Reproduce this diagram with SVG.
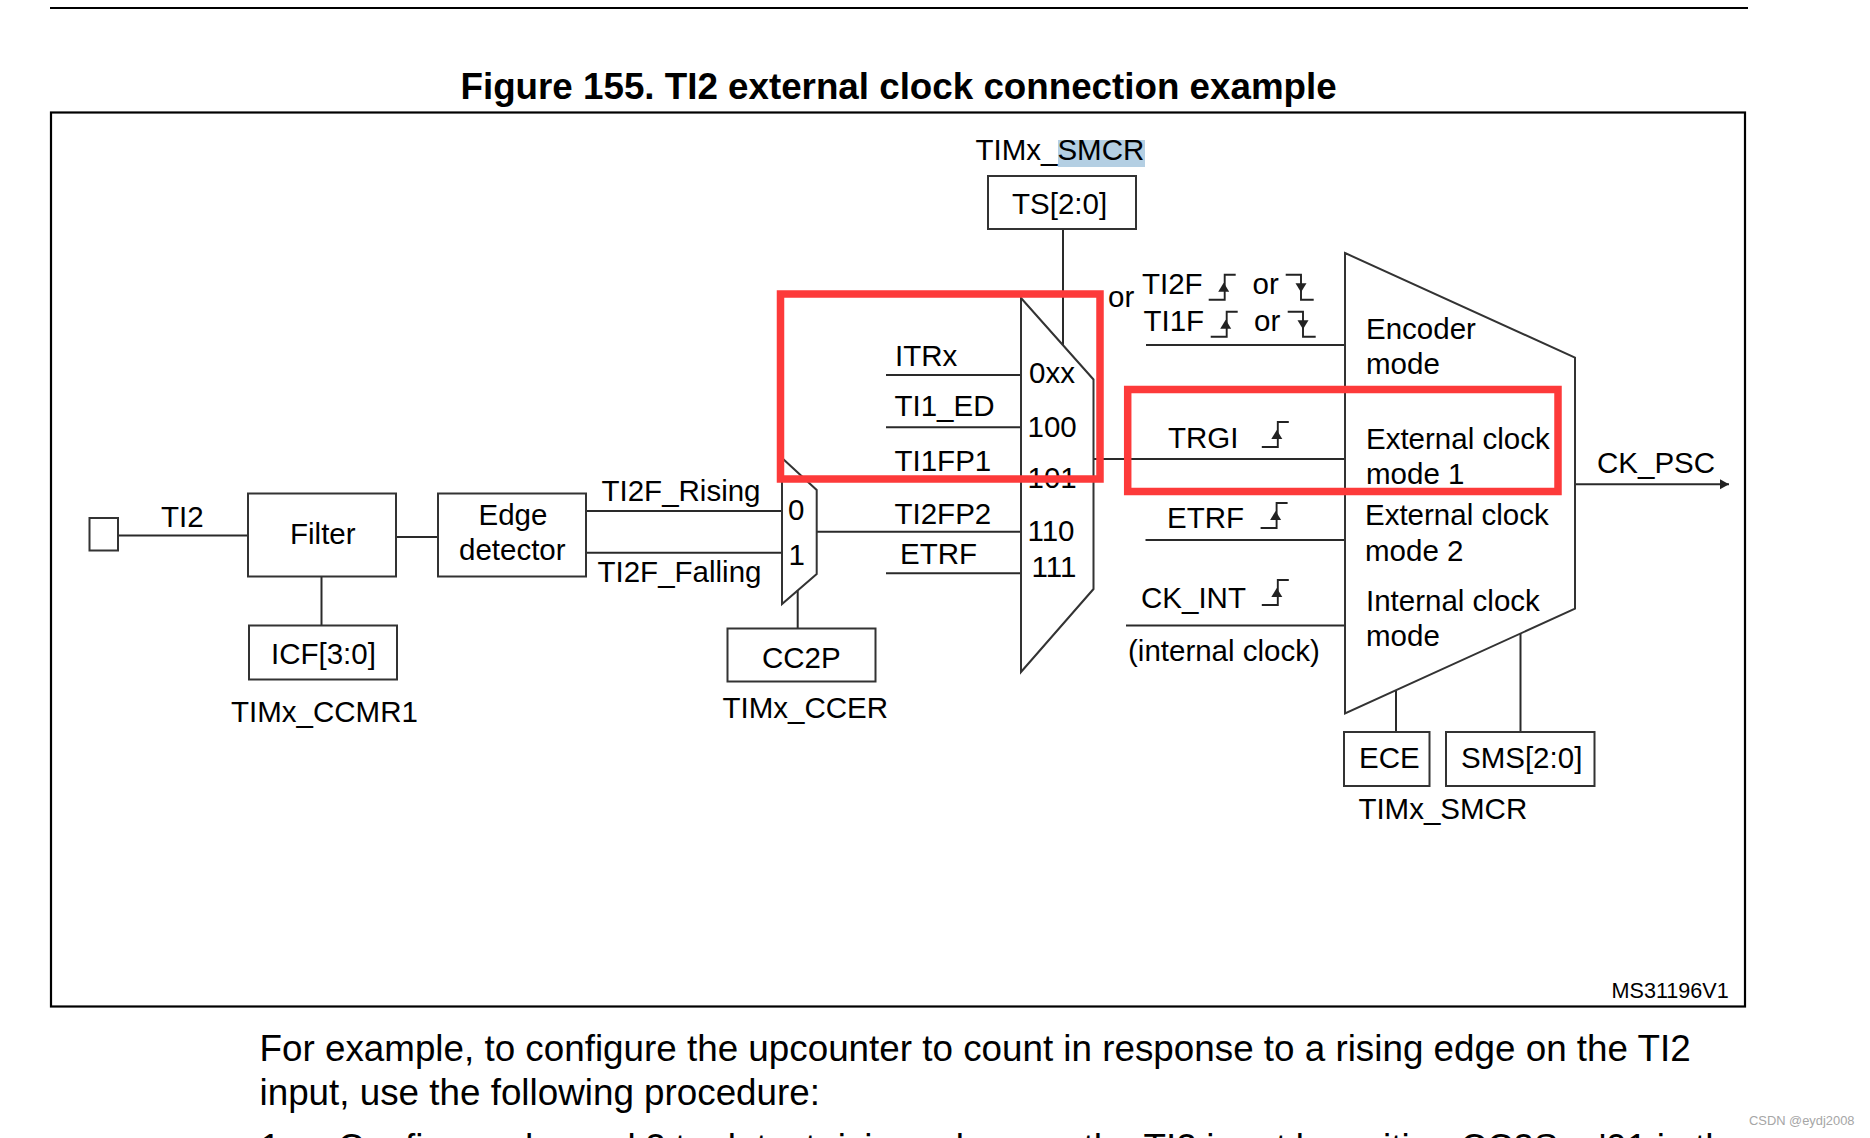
<svg xmlns="http://www.w3.org/2000/svg" width="1870" height="1138" viewBox="0 0 1870 1138">
<style>
text{font-family:"Liberation Sans",Arial,sans-serif;font-size:29.5px;fill:#000}
.title{font-size:36.75px;font-weight:bold}
.body{font-size:36.8px}
.id{font-size:21.6px}
.wm{font-size:12.9px;fill:#a6a6a6}
.frame{fill:none;stroke:#000;stroke-width:2.2}
.box,.shape{fill:#fff;stroke:#333;stroke-width:2}
.shape{fill:none}
#connectors line{stroke:#2a2a2a;stroke-width:2}
.hl{fill:#b4cfe3}
.red{fill:none;stroke:#fd3a3a;stroke-width:7.5}
.e{fill:none;stroke:#222;stroke-width:1.9}
.t{fill:#222}
</style>
<defs>
<g id="rise"><path class="e" d="M0 25H16V0H27"/><polygon class="t" points="15,8 9.5,17 20.5,17"/></g>
<g id="fall"><path class="e" d="M0 0H15.3V25H28"/><polygon class="t" points="15.3,17.5 9.8,8.5 20.8,8.5"/></g>
<marker id="arr" markerUnits="userSpaceOnUse" markerWidth="10" markerHeight="12" refX="9" refY="5" orient="auto"><path d="M0 0L9 5L0 10z" fill="#222"/></marker>
</defs>
<rect width="1870" height="1138" fill="#fff"/>
<line x1="50" y1="8" x2="1748" y2="8" stroke="#000" stroke-width="2"/>
<text class="title" x="460.5" y="98.5">Figure 155. TI2 external clock connection example</text>
<rect class="frame" x="51" y="112.5" width="1694" height="894"/>
<rect class="hl" x="1058" y="140" width="87" height="27"/>

<g id="connectors">
<line x1="118" y1="535.5" x2="248" y2="535.5"/>
<line x1="396" y1="537" x2="438" y2="537"/>
<line x1="321.5" y1="576" x2="321.5" y2="625"/>
<line x1="586" y1="511" x2="782" y2="511"/>
<line x1="586" y1="552.7" x2="782" y2="552.7"/>
<line x1="816.5" y1="531.7" x2="1021" y2="531.7"/>
<line x1="886" y1="573.3" x2="1021" y2="573.3"/>
<line x1="886" y1="375" x2="1021" y2="375"/>
<line x1="886" y1="427.3" x2="1021" y2="427.3"/>
<line x1="797.7" y1="590" x2="797.7" y2="628"/>
<line x1="1063" y1="229" x2="1063" y2="345"/>
<line x1="1146" y1="345" x2="1345" y2="345"/>
<line x1="1094" y1="459" x2="1345" y2="459"/>
<line x1="1145.5" y1="540" x2="1345" y2="540"/>
<line x1="1126" y1="625.5" x2="1345" y2="625.5"/>
<line x1="1396" y1="690.5" x2="1396" y2="732"/>
<line x1="1520.5" y1="633.6" x2="1520.5" y2="732"/>
<line x1="1575" y1="484.3" x2="1729" y2="484.3" marker-end="url(#arr)"/>
</g>

<g id="n-input"><rect class="box" x="89.5" y="518" width="28.5" height="32.5"/><text x="161" y="527">TI2</text></g>
<g id="n-filter"><rect class="box" x="248" y="493.5" width="148" height="83"/><text x="290" y="543.5">Filter</text></g>
<g id="n-edge"><rect class="box" x="438" y="493.5" width="148" height="83"/><text x="478.5" y="525">Edge</text><text x="459" y="560">detector</text></g>
<g id="n-icf"><rect class="box" x="249" y="625.5" width="148" height="54"/><text x="271" y="664">ICF[3:0]</text><text x="231" y="722">TIMx_CCMR1</text></g>
<g id="n-cc2p"><rect class="box" x="727.5" y="628.5" width="148" height="53"/><text x="762" y="668">CC2P</text><text x="722.5" y="717.5">TIMx_CCER</text></g>
<g id="n-ts"><rect class="box" x="988" y="176" width="148" height="53"/><text x="975.5" y="160">TIMx_SMCR</text><text x="1012" y="214">TS[2:0]</text></g>
<g id="n-ece"><rect class="box" x="1344" y="732" width="85.5" height="54"/><text x="1359" y="768">ECE</text></g>
<g id="n-sms"><rect class="box" x="1446" y="732" width="148.5" height="54"/><text x="1461" y="768">SMS[2:0]</text><text x="1358.4" y="819">TIMx_SMCR</text></g>

<g id="n-mux-pol"><polygon class="shape" points="782,458 816.7,490 816.7,574 782,604"/><text x="788" y="520">0</text><text x="788.5" y="565">1</text></g>
<g id="n-mux-ts"><polygon class="shape" points="1021,298 1093.5,379.5 1093.5,589 1021,672"/>
<text x="1029" y="383">0xx</text><text x="1027.5" y="437.4">100</text><text x="1027.5" y="487.7">101</text><text x="1027.5" y="541">110</text><text x="1031.5" y="576.7">111</text></g>
<g id="n-mux-mode"><polygon class="shape" points="1345,253 1575,357.6 1575,608.7 1345,713.4"/>
<text x="1366" y="338.7">Encoder</text><text x="1366" y="374">mode</text>
<text x="1366" y="449">External clock</text><text x="1366" y="484">mode 1</text>
<text x="1365" y="525">External clock</text><text x="1365" y="560.8">mode 2</text>
<text x="1366" y="611">Internal clock</text><text x="1366" y="646">mode</text></g>

<g id="labels">
<text x="601.5" y="500.7">TI2F_Rising</text>
<text x="597.5" y="581.7">TI2F_Falling</text>
<text x="895" y="365.5">ITRx</text>
<text x="894.5" y="415.5">TI1_ED</text>
<text x="894.5" y="471">TI1FP1</text>
<text x="894.5" y="523.5">TI2FP2</text>
<text x="900" y="564">ETRF</text>
<text x="1108" y="307.3">or</text>
<text x="1142" y="294">TI2F</text>
<text x="1252.5" y="294">or</text>
<text x="1143.5" y="331">TI1F</text>
<text x="1254" y="331">or</text>
<text x="1168" y="448.3">TRGI</text>
<text x="1167" y="528">ETRF</text>
<text x="1141" y="608">CK_INT</text>
<text x="1128" y="660.6">(internal clock)</text>
<text x="1597" y="473">CK_PSC</text>
<text class="id" x="1611.5" y="998">MS31196V1</text>
</g>

<g id="edges">
<use href="#rise" x="1208.7" y="274.7"/><use href="#fall" x="1285.7" y="274.7"/>
<use href="#rise" x="1210.7" y="311.7"/><use href="#fall" x="1287.7" y="311.7"/>
<use href="#rise" x="1261.8" y="422"/>
<use href="#rise" x="1260.6" y="503"/>
<use href="#rise" x="1261.8" y="580"/>
</g>

<g id="highlights">
<rect class="red" x="780.5" y="294" width="319.5" height="185"/>
<rect class="red" x="1127.7" y="389.5" width="430.3" height="102"/>
</g>

<g id="page-text">
<text class="body" x="259.5" y="1061">For example, to configure the upcounter to count in response to a rising edge on the TI2</text>
<text class="body" x="259.5" y="1105">input, use the following procedure:</text>
<text class="body" x="260" y="1159.5">1.</text>
<text class="body" x="337.5" y="1159.5" word-spacing="-0.6">Configure channel 2 to detect rising edges on the TI2 input by writing CC2S = '01 in the</text>
<text class="wm" x="1749" y="1125">CSDN @eydj2008</text>
</g>
</svg>
